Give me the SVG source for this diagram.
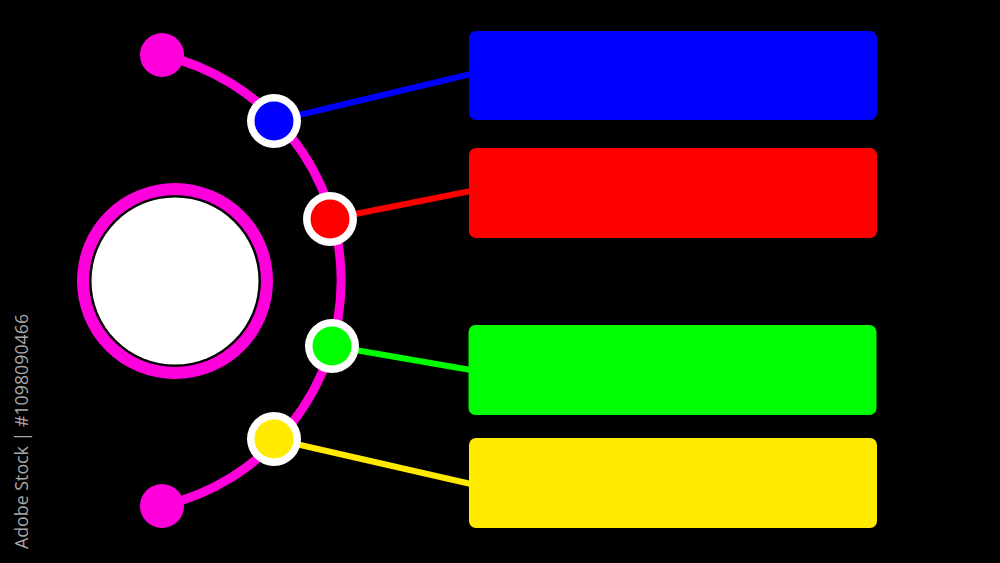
<svg xmlns="http://www.w3.org/2000/svg" width="1000" height="563" viewBox="0 0 1000 563">
<style>
.arc{fill:none;stroke:#ff00dd;stroke-width:9}
.end{fill:#ff00dd}
.ring{fill:#ffffff}
.link{stroke-width:6;fill:none}
.credit{font-family:"Open Sans","DejaVu Sans",sans-serif;font-size:17.8px;fill:#a8a8a8}
</style>
<rect x="0" y="0" width="1000" height="563" fill="#000000"/>
<g id="spine">
<path class="arc" d="M162,55 A231.5,231.5 0 0 1 162,506"/>
<circle class="end" cx="162" cy="55" r="22"/>
<circle class="end" cx="162" cy="506" r="22"/>
</g>
<g id="hub">
<circle cx="175" cy="281" r="98" fill="#ff00dd"/>
<circle cx="175" cy="281" r="86" fill="#000000"/>
<circle cx="175" cy="281" r="83.5" fill="#ffffff"/>
</g>
<g id="connectors">
<line class="link" x1="274" y1="121" x2="471" y2="74" stroke="#0000ff"/>
<line class="link" x1="330" y1="219" x2="471" y2="191" stroke="#ff0000"/>
<line class="link" x1="332" y1="346" x2="471" y2="370" stroke="#00ff00"/>
<line class="link" x1="274" y1="439" x2="471" y2="484" stroke="#ffea00"/>
</g>
<g id="node-blue">
<circle class="ring" cx="274" cy="121" r="27"/>
<circle cx="274" cy="121" r="19.5" fill="#0000ff"/>
<rect x="469" y="31" width="408" height="89" rx="7" fill="#0000ff"/>
</g>
<g id="node-red">
<circle class="ring" cx="330" cy="219" r="27"/>
<circle cx="330" cy="219" r="19.5" fill="#ff0000"/>
<rect x="469" y="148" width="408" height="90" rx="7" fill="#ff0000"/>
</g>
<g id="node-green">
<circle class="ring" cx="332" cy="346" r="27"/>
<circle cx="332" cy="346" r="19.5" fill="#00ff00"/>
<rect x="468.5" y="325" width="408" height="90" rx="7" fill="#00ff00"/>
</g>
<g id="node-yellow">
<circle class="ring" cx="274" cy="439" r="27"/>
<circle cx="274" cy="439" r="19.5" fill="#ffea00"/>
<rect x="469" y="438" width="408" height="90" rx="7" fill="#ffea00"/>
</g>
<text class="credit" transform="translate(28,549) rotate(-90)">Adobe Stock | #1098090466</text>
</svg>
